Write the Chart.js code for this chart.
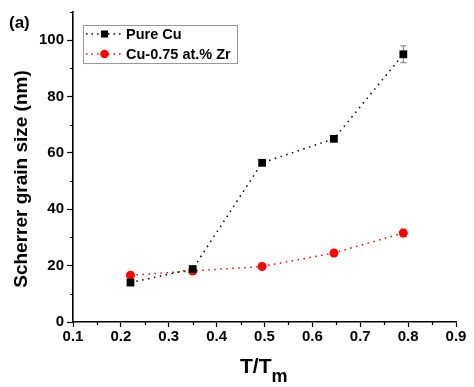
<!DOCTYPE html>
<html>
<head>
<meta charset="utf-8">
<style>
  html, body { margin: 0; padding: 0; background: #fff; }
</style>
<script src="https://cdn.jsdelivr.net/npm/chart.js@4.4.1/dist/chart.umd.min.js"></script>
</head>
<body>
<canvas id="grainChart" width="474" height="387"></canvas>
<script>
// values
const temps = [0.22, 0.35, 0.495, 0.645, 0.79];
const pureCu = [14, 18.8, 56.5, 65, 95];
const pureCuErr = [0.6, 0.8, 1, 1, 3];
const cuZr = [16.6, 18.1, 19.7, 24.5, 31.6];
const cuZrErr = [0.6, 0.6, 0.6, 0.6, 1.4];
const seriesNames = ["Pure Cu", "Cu-0.75 at.% Zr"];
const xMinorTicks = [0.15, 0.25, 0.35, 0.45, 0.55, 0.65, 0.75, 0.85];
const yMinorTicks = [10, 30, 50, 70, 90, 110];

const FONT = "'Liberation Sans', Arial, sans-serif";

function toPoints(xs, ys) {
    return xs.map((x, i) => ({ x: x, y: ys[i] }));
}

// error bars drawn under the markers
const errorBars = {
    id: "errorBars",
    beforeDatasetsDraw(chart) {
        const ctx = chart.ctx;
        const xs = chart.scales.x, ys = chart.scales.y;
        const sets = [[pureCu, pureCuErr, "#777"], [cuZr, cuZrErr, "#f7a0a0"]];
        ctx.save();
        ctx.lineWidth = 1;
        sets.forEach(([vals, errs, color]) => {
            ctx.strokeStyle = color;
            temps.forEach((t, i) => {
                const px = xs.getPixelForValue(t);
                const top = ys.getPixelForValue(vals[i] + errs[i]);
                const bot = ys.getPixelForValue(vals[i] - errs[i]);
                ctx.beginPath();
                ctx.moveTo(px, top); ctx.lineTo(px, bot);
                ctx.moveTo(px - 3, top); ctx.lineTo(px + 3, top);
                ctx.moveTo(px - 3, bot); ctx.lineTo(px + 3, bot);
                ctx.stroke();
            });
        });
        ctx.restore();
    }
};

// minor ticks, legend box, titles and panel label
const decorations = {
    id: "decorations",
    afterDraw(chart) {
        const ctx = chart.ctx;
        const xs = chart.scales.x, ys = chart.scales.y;
        const area = chart.chartArea;
        ctx.save();

        ctx.strokeStyle = "#000";
        ctx.lineWidth = 1.2;
        ctx.beginPath();
        xMinorTicks.forEach(v => {
            const px = Math.round(xs.getPixelForValue(v)) + 0.5;
            ctx.moveTo(px, area.bottom); ctx.lineTo(px, area.bottom + 3);
        });
        yMinorTicks.forEach(v => {
            const py = Math.round(ys.getPixelForValue(v)) + 0.5;
            ctx.moveTo(area.left, py); ctx.lineTo(area.left - 3, py);
        });
        ctx.stroke();

        // legend
        ctx.strokeStyle = "#999";
        ctx.lineWidth = 1;
        ctx.strokeRect(83.5, 25.5, 154, 38);
        const rows = [[34, "#000", "rect"], [54, "#ff0000", "circle"]];
        rows.forEach(([y, color, shape], i) => {
            ctx.strokeStyle = color;
            ctx.lineWidth = 1.5;
            ctx.setLineDash([1.5, 4]);
            ctx.beginPath();
            ctx.moveTo(86, y); ctx.lineTo(124, y);
            ctx.stroke();
            ctx.setLineDash([]);
            ctx.fillStyle = color;
            if (shape === "rect") {
                ctx.fillRect(101, y - 3.5, 7, 7);
            } else {
                ctx.beginPath();
                ctx.arc(104.5, y, 4.3, 0, Math.PI * 2);
                ctx.fill();
            }
            ctx.fillStyle = "#000";
            ctx.font = "bold 14.5px " + FONT;
            ctx.textAlign = "left";
            ctx.textBaseline = "middle";
            ctx.fillText(seriesNames[i], 126, y + 1);
        });

        // panel label
        ctx.fillStyle = "#000";
        ctx.font = "bold 17px " + FONT;
        ctx.textBaseline = "alphabetic";
        ctx.fillText("(a)", 9, 28);

        // x title with subscript
        ctx.font = "bold 21px " + FONT;
        ctx.fillText("T/T", 240, 373);
        const w = ctx.measureText("T/T").width;
        ctx.font = "bold 18px " + FONT;
        ctx.fillText("m", 240 + w, 382);

        // y title
        ctx.translate(27, 179);
        ctx.rotate(-Math.PI / 2);
        ctx.textAlign = "center";
        ctx.font = "bold 19px " + FONT;
        ctx.fillText("Scherrer grain size (nm)", 0, 0);
        ctx.restore();
    }
};

const ctx = document.getElementById("grainChart").getContext("2d");
new Chart(ctx, {
    type: "line",
    data: {
        datasets: [{
            label: seriesNames[0],
            data: toPoints(temps, pureCu),
            borderColor: "#000",
            backgroundColor: "#000",
            borderWidth: 1.5,
            borderDash: [1.5, 4.5],
            pointStyle: "rect",
            pointRadius: 5.5,
            pointBorderWidth: 0,
            tension: 0
        }, {
            label: seriesNames[1],
            data: toPoints(temps, cuZr),
            borderColor: "#ff0000",
            backgroundColor: "#ff0000",
            borderWidth: 1.5,
            borderDash: [1.5, 4.5],
            pointStyle: "circle",
            pointRadius: 4.5,
            pointBorderWidth: 0,
            tension: 0
        }]
    },
    options: {
        responsive: false,
        animation: false,
        layout: { padding: { left: 0, right: 18, top: 8, bottom: 0 } },
        plugins: {
            legend: { display: false },
            tooltip: { enabled: false }
        },
        scales: {
            x: {
                type: "linear",
                min: 0.1,
                max: 0.9,
                ticks: {
                    stepSize: 0.1,
                    color: "#000",
                    font: { family: FONT, size: 15, weight: "bold" },
                    padding: 1,
                    maxRotation: 0,
                    autoSkip: false,
                    callback: v => v.toFixed(1)
                },
                grid: { drawOnChartArea: false, tickLength: 5, tickColor: "#000", tickWidth: 1.2 },
                border: { color: "#000", width: 1.6 },
                afterFit: s => { s.height = 65; }
            },
            y: {
                min: 0,
                max: 110,
                ticks: {
                    stepSize: 20,
                    includeBounds: false,
                    color: "#000",
                    font: { family: FONT, size: 15, weight: "bold" },
                    padding: 3
                },
                grid: { drawOnChartArea: false, tickLength: 6, tickColor: "#000", tickWidth: 1.2 },
                border: { color: "#000", width: 1.6 },
                afterFit: s => { s.width = 73; }
            }
        }
    },
    plugins: [errorBars, decorations]
});
</script>
</body>
</html>
